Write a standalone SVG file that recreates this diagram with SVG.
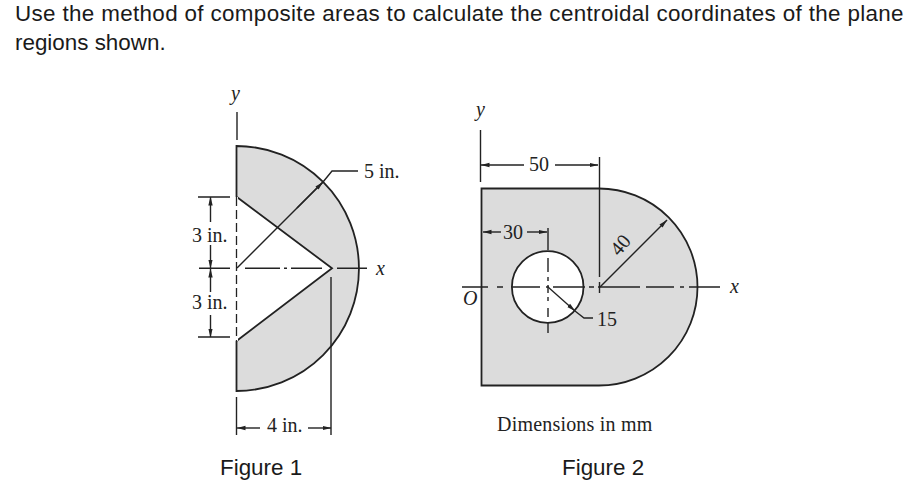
<svg xmlns="http://www.w3.org/2000/svg" width="913" height="497" viewBox="0 0 913 497">
<defs>
<marker id="a" markerWidth="9" markerHeight="6" refX="8.5" refY="3" orient="auto-start-reverse" markerUnits="userSpaceOnUse"><path d="M0 .8L9 3L0 5.200z" fill="#222"/></marker>
</defs>
<style>
.s{font-family:"Liberation Sans",Arial,sans-serif;font-size:22.4px;fill:#1a1a1a}
.t{font-family:"Liberation Serif","Times New Roman",serif;font-size:20px;fill:#222}
.i{font-style:italic}
.r{fill:#dcdcdc;stroke:#222;stroke-width:1.8}
.l{fill:none;stroke:#222;stroke-width:1.4}
.e{fill:none;stroke:#222;stroke-width:1.4;marker-end:url(#a)}
.d{fill:none;stroke:#222;stroke-width:1.3;stroke-dasharray:9 4}
</style>
<rect width="913" height="497" fill="#fff"/>
<g id="prompt">
<text class="s" x="15" y="21" letter-spacing=".35">Use the method of composite areas to calculate the centroidal coordinates of the plane</text>
<text class="s" x="15" y="50">regions shown.</text>
</g>
<g id="figure1-shape">
<path class="r" d="M236.500 146A122.500 122.500 0 0 1 236.500 391V341L332 268.300L236.500 196.700Z"/>
<path d="M236.500 197V341" stroke="#fff" stroke-width="3"/>
</g>
<g id="figure1-connectors">
<path class="d" d="M236.500 197V341"/>
<path class="l" d="M237 112V140" stroke-width="1.800"/>
<path class="l" d="M199 268.300H230M245 268.300H280M284 268.300H287M291 268.300H322M337 268.300H367"/>
<path class="l" d="M331 277V357M331 357V435"/>
<path class="l" d="M237 268L323 182"/>
<path class="e" d="M297 208L323 182"/>
<path class="l" d="M323 182L332 171H358"/>
<path class="l" d="M198 197H230M198 337H230"/>
<path class="e" d="M210.500 222V197"/>
<path class="e" d="M210.500 245V268"/>
<path class="e" d="M210.500 292V269"/>
<path class="e" d="M210.500 315V337"/>
<path class="l" d="M236.500 397V435"/>
<path class="e" d="M260 428H237"/>
<path class="e" d="M308 428H331"/>
</g>
<g id="figure1-labels">
<text class="t i" x="231" y="100">y</text>
<text class="t" x="364" y="178">5 in.</text>
<text class="t i" x="376" y="275">x</text>
<text class="t" x="192" y="242">3 in.</text>
<text class="t" x="192" y="309">3 in.</text>
<text class="t" x="267" y="432">4 in.</text>
<text class="s" x="220" y="475">Figure 1</text>
</g>
<g id="figure2-shape">
<path class="r" d="M481.500 188.500H599A98.500 98.500 0 0 1 599 385.500H481.500Z"/>
<circle cx="547.700" cy="287" r="35.800" fill="#fff" stroke="#222" stroke-width="1.800"/>
</g>
<g id="figure2-connectors">
<path class="l" d="M480.500 130V182M599.500 157V277M599.500 282V293"/>
<path class="e" d="M524 165H481"/>
<path class="e" d="M555 165H598"/>
<path class="e" d="M501 232H483"/>
<path class="e" d="M527 232H547"/>
<path class="l" d="M548 228V250M548 258V272M548 277V281M548 285V293M548 297V301M548 308V317M548 322V333"/>
<path class="l" d="M462 287H488M497 287H503M512 287H540M546 287H549M553 287H585M589 287H594M598 287H640M646 287H674M680 287H684M689 287H720"/>
<path class="e" d="M600 287L667 220"/>
<path class="e" d="M548 287L575 311"/>
<path class="l" d="M575 311L584 318H593"/>
</g>
<g id="figure2-labels">
<text class="t i" x="476" y="116">y</text>
<text class="t" x="529" y="171">50</text>
<text class="t" x="503" y="239">30</text>
<text class="t" transform="translate(619 257) rotate(-50)">40</text>
<text class="t i" x="463" y="305">O</text>
<text class="t" x="597" y="326">15</text>
<text class="t i" x="730" y="293">x</text>
<text class="t" x="497" y="431" letter-spacing=".2">Dimensions in mm</text>
<text class="s" x="562" y="475">Figure 2</text>
</g>
</svg>
